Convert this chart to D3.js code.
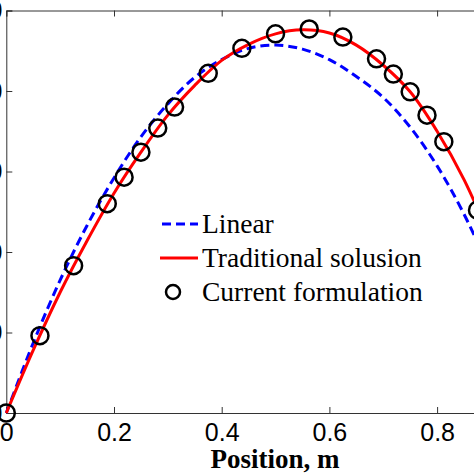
<!DOCTYPE html>
<html>
<head>
<meta charset="utf-8">
<script src="https://cdn.jsdelivr.net/npm/d3@7"></script>
<style>
  body { margin: 0; background: #fff; }
  svg { display: block; }
  .tick text { font-family: "Liberation Sans", Arial, sans-serif; }
</style>
</head>
<body>
<div id="chart"></div>
<script>
// circle samples (Current formulation)
const currentX = [0, 0.0625, 0.125, 0.1875, 0.21875, 0.25, 0.28125, 0.3125, 0.375, 0.4375,
  0.5, 0.5625, 0.625, 0.6875, 0.71875, 0.75, 0.78125, 0.8125, 0.875];
const currentY = [0, 0.96, 1.83, 2.6, 2.93, 3.24, 3.54, 3.8, 4.22, 4.53,
  4.71, 4.77, 4.67, 4.4, 4.21, 3.99, 3.7, 3.37, 2.52];

// curve samples
const curveX = [0, 0.05, 0.1, 0.15, 0.2, 0.25, 0.3, 0.35, 0.4, 0.45,
  0.5, 0.55, 0.6, 0.65, 0.7, 0.75, 0.8, 0.85, 0.9];
const linearY = [0, 0.87, 1.65, 2.33, 2.92, 3.43, 3.84, 4.17, 4.39, 4.53,
  4.57, 4.52, 4.39, 4.18, 3.92, 3.55, 3.07, 2.47, 1.75];
const traditionalY = [0, 0.78, 1.5, 2.14, 2.73, 3.24, 3.7, 4.07, 4.38, 4.58,
  4.71, 4.76, 4.72, 4.57, 4.32, 3.99, 3.5, 2.9, 2.15];

const xTicks = [0, 0.2, 0.4, 0.6, 0.8, 1];
const yTicks = [0, 1, 2, 3, 4, 5];
const legendLabels = ["Linear", "Traditional solusion", "Current formulation"];

const width = 474, height = 474;
const padLeft = 6.3, padBottom = 413, padTop = 10.5;

const x = d3.scaleLinear().domain([0, 1]).range([padLeft, padLeft + 538.5]);
const y = d3.scaleLinear().domain([0, 5]).range([padBottom, padTop]);

const svg = d3.select("#chart").append("svg")
  .attr("width", width)
  .attr("height", height);

const axisColor = "#333";

// frame
svg.append("g")
  .attr("transform", `translate(0, ${padBottom})`)
  .call(d3.axisBottom(x).tickValues(xTicks).tickSize(-6).tickPadding(10)
    .tickFormat(d => d === 0 ? "0" : d3.format(".1f")(d)))
  .call(g => g.select(".domain").attr("stroke", axisColor))
  .call(g => g.selectAll(".tick line").attr("stroke", axisColor))
  .call(g => g.selectAll(".tick text").attr("font-size", 25).attr("fill", "#000"));

svg.append("g")
  .attr("transform", `translate(0, ${padTop})`)
  .call(d3.axisTop(x).tickValues(xTicks).tickSize(-6).tickFormat(""))
  .call(g => g.select(".domain").attr("stroke", axisColor))
  .call(g => g.selectAll(".tick line").attr("stroke", axisColor));

svg.append("g")
  .attr("transform", `translate(${padLeft}, 0)`)
  .call(d3.axisLeft(y).tickValues(yTicks).tickSize(-6).tickPadding(4))
  .call(g => g.select(".domain").attr("stroke", axisColor))
  .call(g => g.selectAll(".tick line").attr("stroke", axisColor))
  .call(g => g.selectAll(".tick text").attr("font-size", 25).attr("fill", "#000"));

// x label
svg.append("text")
  .attr("x", 275)
  .attr("y", 468)
  .attr("text-anchor", "middle")
  .attr("font-family", "Liberation Serif, Times New Roman, serif")
  .attr("font-weight", "bold")
  .attr("font-size", 27)
  .text("Position, m");

const plot = svg.append("g");

const line = d3.line()
  .x((d, i) => x(curveX[i]))
  .y(d => y(d))
  .curve(d3.curveCatmullRom);

plot.append("path")
  .datum(linearY)
  .attr("d", line)
  .attr("fill", "none")
  .attr("stroke", "#0000ff")
  .attr("stroke-width", 3)
  .attr("stroke-dasharray", "9,5");

plot.append("path")
  .datum(traditionalY)
  .attr("d", line)
  .attr("fill", "none")
  .attr("stroke", "#ff0000")
  .attr("stroke-width", 3);

plot.selectAll("circle")
  .data(currentY)
  .enter()
  .append("circle")
  .attr("cx", (d, i) => x(currentX[i]))
  .attr("cy", d => y(d))
  .attr("r", 8.5)
  .attr("fill", "none")
  .attr("stroke", "#000")
  .attr("stroke-width", 2.5);

// legend
const legend = svg.append("g").attr("transform", "translate(162, 224)");
const rowH = 34;
legendLabels.forEach((label, i) => {
  const row = legend.append("g").attr("transform", `translate(0, ${i * rowH})`);
  if (i === 0) {
    row.append("line").attr("x1", 0).attr("x2", 36).attr("y1", 0).attr("y2", 0)
      .attr("stroke", "#0000ff").attr("stroke-width", 3).attr("stroke-dasharray", "9,5");
  } else if (i === 1) {
    row.append("line").attr("x1", -2).attr("x2", 36).attr("y1", 0).attr("y2", 0)
      .attr("stroke", "#ff0000").attr("stroke-width", 3);
  } else {
    row.append("circle").attr("cx", 11).attr("cy", 0).attr("r", 7)
      .attr("fill", "none").attr("stroke", "#000").attr("stroke-width", 2.5);
  }
  row.append("text")
    .attr("x", 40)
    .attr("y", 9)
    .attr("font-family", "Liberation Serif, Times New Roman, serif")
    .attr("font-size", 27.5)
    .text(label);
});
</script>
</body>
</html>
